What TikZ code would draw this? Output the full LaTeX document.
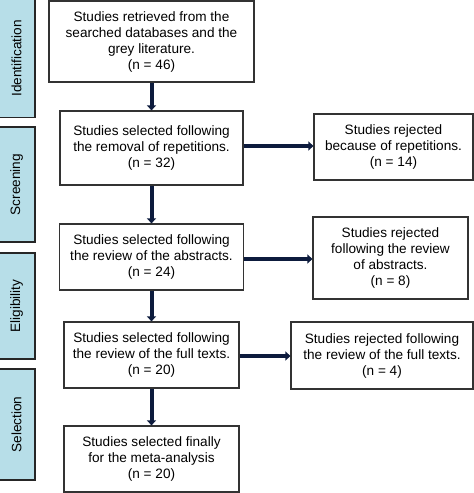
\documentclass[tikz,border=0pt]{standalone}
\usepackage{fontspec}
\setmainfont{Liberation Sans}
\usetikzlibrary{arrows.meta,positioning}
\definecolor{phasefill}{HTML}{B7DEE8}
\definecolor{arrowblue}{HTML}{0D1B3D}
\tikzstyle{stage}=[draw=black!85, line width=1.3pt, fill=phasefill, inner sep=0pt, minimum width=37pt]
\tikzstyle{step box}=[draw=black!80, line width=1.2pt, fill=white, align=center, inner sep=2pt, font=\fontsize{13.6}{16}\selectfont]
\tikzstyle{flow}=[draw=arrowblue, line width=4pt, -{Triangle[length=5pt,width=9pt]}]

\begin{document}
\begin{tikzpicture}[x=1pt,y=1pt]
            \useasboundingbox (0,0) rectangle (474,-493);

            % phase labels on the left
            \begin{scope}[every node/.style={stage}]
                \node[minimum height=118pt] (id)  at (16.5,-58.5)  {\rotatebox{90}{\fontsize{13.6}{16}\selectfont Identification}};
                \node[minimum height=115pt] (scr) at (16.5,-184.5) {\rotatebox{90}{\fontsize{13.6}{16}\selectfont Screening}};
                \node[minimum height=106pt] (eli) at (16.5,-306)   {\rotatebox{90}{\fontsize{13.6}{16}\selectfont Eligibility}};
                \node[minimum height=111pt] (sel) at (16.5,-424.5) {\rotatebox{90}{\fontsize{13.6}{16}\selectfont Selection}};
            \end{scope}

            % main column
            \begin{scope}[every node/.style={step box}]
                \node[minimum width=205pt, minimum height=81pt] (found) at (151.5,-41.5)
                    {Studies retrieved from the\\searched databases and the\\grey literature.\\(n = 46)};
                \node[minimum width=183pt, minimum height=74pt] (dedup) at (151.5,-148)
                    {Studies selected following\\the removal of repetitions.\\(n = 32)};
                \node[minimum width=184pt, minimum height=66pt] (abstr) at (151.5,-257)
                    {Studies selected following\\the review of the abstracts.\\(n = 24)};
                \node[minimum width=175pt, minimum height=66pt] (full) at (151.5,-355)
                    {Studies selected following\\the review of the full texts.\\(n = 20)};
                \node[minimum width=175pt, minimum height=66pt] (final) at (151.5,-459)
                    {Studies selected finally\\for the meta-analysis\\(n = 20)};
            \end{scope}

            % excluded studies
            \begin{scope}[every node/.style={step box}]
                \node[minimum width=159pt, minimum height=66pt] (rej1) at (393.5,-147)
                    {Studies rejected\\because of repetitions.\\(n = 14)};
                \node[minimum width=155pt, minimum height=82pt] (rej2) at (390.5,-258)
                    {Studies rejected\\following the review\\of abstracts.\\(n = 8)};
                \node[minimum width=182pt, minimum height=67pt] (rej3) at (382,-355.5)
                    {Studies rejected following\\the review of the full texts.\\(n = 4)};
            \end{scope}

            \begin{scope}[every path/.style={flow}]
                \path (found) -- (dedup);
                \path (dedup) -- (abstr);
                \path (abstr) -- (full);
                \path (full) -- (final);
                \path (dedup.east |- 0,-146) -- (rej1.west |- 0,-146);
                \path (abstr.east |- 0,-259) -- (rej2.west |- 0,-259);
                \path (full.east |- 0,-356) -- (rej3.west |- 0,-356);
            \end{scope}
        \end{tikzpicture}
\end{document}
